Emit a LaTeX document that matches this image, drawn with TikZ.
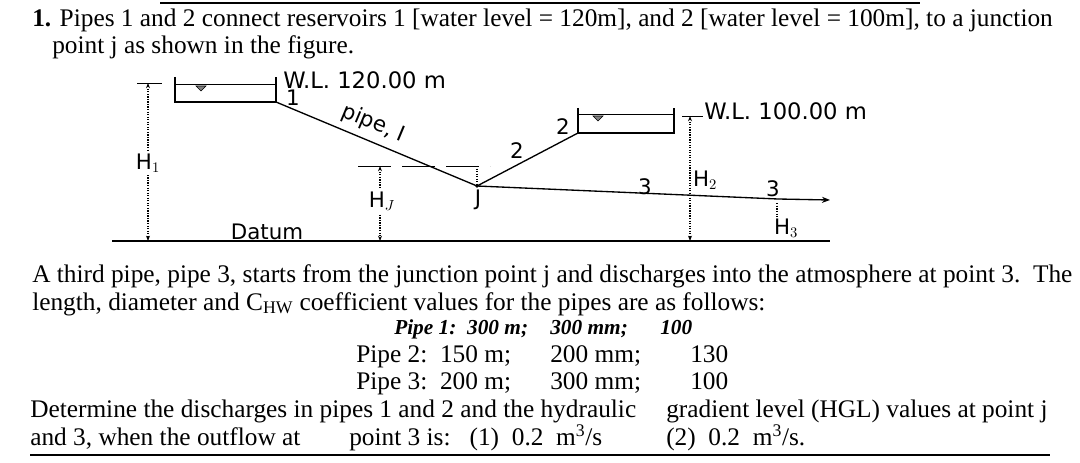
\documentclass[tikz,border=0pt]{standalone}
\usepackage{fontspec}
\setmainfont{Liberation Serif}
\newfontfamily\lab{DejaVu Sans}
\usetikzlibrary{arrows.meta}
\begin{document}
\begin{tikzpicture}[x=0.75pt,y=-0.75pt,
  txt/.style={anchor=base west,inner sep=0,font=\fontsize{19}{22}\selectfont},
  bi/.style={txt,font=\bfseries\itshape\fontsize{16}{19}\selectfont},
  lbl/.style={inner sep=0,font=\lab\fontsize{16}{18}\selectfont},
  pipe/.style={line width=1pt},
  dim/.style={densely dotted,line width=0.9pt,{Stealth[length=4pt]}-{Stealth[length=4pt]}}]
\useasboundingbox (0,0) rectangle (1080,463);
\draw[line width=0.8pt] (160,3) -- (920,3);
\node[txt] (t1) at (32,27) {\textbf{1.} Pipes 1 and 2 connect reservoirs 1 [water level = 120m], and 2 [water level = 100m], to a junction};
\node[txt] (t2) at (52,54) {point j as shown in the figure.};
% reservoir 1
\draw[line width=0.9pt] (175,77) -- (175,102) -- (276,102) -- (276,77);
\draw (175,84) -- (276,84);
\draw[fill=gray] (196,86) -- (206,86) -- (201,91) -- cycle;
\node[lbl,anchor=west,font=\lab\fontsize{17}{19}\selectfont] (wl1) at (283,80) {W.L. 120.00 m};
\node[lbl] (n1) at (293,98) {1};
% reservoir 2
\draw[line width=0.9pt] (578,108) -- (578,133) -- (674,133) -- (674,108);
\draw (578,114) -- (674,114);
\draw[fill=gray] (593,116) -- (603,116) -- (598,121) -- cycle;
\node[lbl,anchor=west,font=\lab\fontsize{17}{19}\selectfont] (wl2) at (704,111) {W.L. 100.00 m};
\draw (682,116) -- (703,116);
% pipes
\coordinate (p1) at (276,102);
\coordinate (J) at (477,186);
\coordinate (p2) at (578,133);
\coordinate (p3) at (778,199);
\coordinate (e3) at (830,200);
\draw[pipe] (p1) -- node[lbl,sloped,above=5pt,pos=0.45]{pipe, I} (J);
\draw[pipe] (J) -- (p2);
\draw[pipe] (J) -- (p3);
\draw[pipe,-{Stealth[length=6pt]}] (p3) -- (e3);
\fill (J) circle (1.8);
\node[lbl] (n2a) at (517,151) {2};
\node[lbl] (n2b) at (563,127) {2};
\node[lbl] (n3a) at (645,187) {3};
\node[lbl] (n3b) at (773,189) {3};
% datum
\draw[line width=1pt] (112,241) -- (830,241);
\node[lbl] (dat) at (267,232) {Datum};
% H1
\draw (137,83) -- (162,83);
\draw[dim] (148,83) -- (148,241);
\node[lbl,fill=white,inner sep=2pt] (h1) at (148,163) {H$_1$};
% HJ
\draw[dashed,dash pattern=on 25pt off 8pt] (358,166) -- (490,166);
\draw[dim] (380,166) -- (380,241);
\node[lbl,fill=white,inner sep=2pt] (hj) at (382,201) {H$_J$};
\draw[densely dotted,line width=0.9pt] (477,166) -- (J);
\node[lbl] (jl) at (478,200) {J};
% H2
\draw[dim] (690,116) -- (690,241);
\node[lbl] (h2) at (705,180) {H$_2$};
% H3
\draw[densely dotted,line width=1pt] (777,203) -- (777,241);
\node[lbl,fill=white,inner sep=1pt] (h3) at (786,228) {H$_3$};
% text
\node[txt] (t3) at (32,282) {A third pipe, pipe 3, starts from the junction point j and discharges into the atmosphere at point 3.\ \ The};
\node[txt] (t4) at (32,310) {length, diameter and C\textsubscript{HW} coefficient values for the pipes are as follows:};
\node[bi] (r1a) at (394,334) {Pipe 1:\ \ 300 m;};
\node[bi] (r1b) at (550,334) {300 mm;};
\node[bi] (r1c) at (660,334) {100};
\node[txt] (r2a) at (356,362) {Pipe 2:\ \ 150 m;};
\node[txt] (r2b) at (550,362) {200 mm;};
\node[txt] (r2c) at (690,362) {130};
\node[txt] (r3a) at (356,389) {Pipe 3:\ \ 200 m;};
\node[txt] (r3b) at (550,389) {300 mm;};
\node[txt] (r3c) at (690,389) {100};
\node[txt] (t5) at (30,417) {Determine the discharges in pipes 1 and 2 and the hydraulic};
\node[txt] (t6) at (666,417) {gradient level (HGL) values at point j};
\node[txt] (t7) at (30,445) {and 3, when the outflow at};
\node[txt] (t8) at (349,445) {point 3 is:\ \ \ (1)\ \ 0.2\ \ m\textsuperscript{3}/s};
\node[txt] (t9) at (666,445) {(2)\ \ 0.2\ \ m\textsuperscript{3}/s.};
\draw[line width=0.8pt] (30,455) -- (1050,455);
\end{tikzpicture}
\end{document}
